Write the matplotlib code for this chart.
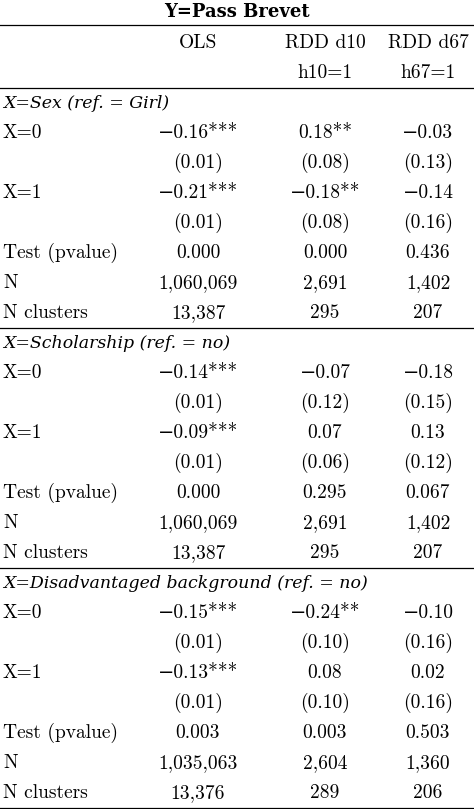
import matplotlib.pyplot as plt

plt.rcParams['font.family'] = ['cmr10', 'DejaVu Serif']
plt.rcParams['mathtext.fontset'] = 'cm'

title = "Y=Pass Brevet"
headers1 = ["OLS", "RDD d10", "RDD d67"]
headers2 = ["", "h10=1", "h67=1"]
sections = ["X=Sex (ref. = Girl)",
            "X=Scholarship (ref. = no)",
            "X=Disadvantaged background (ref. = no)"]
row_labels = ["X=0", "", "X=1", "", "Test (pvalue)", "N", "N clusters"]
values = [
    [["-0.16***", "0.18**", "-0.03"],
     ["(0.01)", "(0.08)", "(0.13)"],
     ["-0.21***", "-0.18**", "-0.14"],
     ["(0.01)", "(0.08)", "(0.16)"],
     ["0.000", "0.000", "0.436"],
     ["1,060,069", "2,691", "1,402"],
     ["13,387", "295", "207"]],
    [["-0.14***", "-0.07", "-0.18"],
     ["(0.01)", "(0.12)", "(0.15)"],
     ["-0.09***", "0.07", "0.13"],
     ["(0.01)", "(0.06)", "(0.12)"],
     ["0.000", "0.295", "0.067"],
     ["1,060,069", "2,691", "1,402"],
     ["13,387", "295", "207"]],
    [["-0.15***", "-0.24**", "-0.10"],
     ["(0.01)", "(0.10)", "(0.16)"],
     ["-0.13***", "0.08", "0.02"],
     ["(0.01)", "(0.10)", "(0.16)"],
     ["0.003", "0.003", "0.503"],
     ["1,035,063", "2,604", "1,360"],
     ["13,376", "289", "206"]],
]

W, H = 474, 809
fig = plt.figure(figsize=(W / 100, H / 100), dpi=100)
ax = fig.add_axes([0, 0, 1, 1])
ax.set_xlim(0, W)
ax.set_ylim(H, 0)
ax.axis('off')

fs = 14
col_x = [198, 325, 428]
lw = 0.9

ax.text(W / 2, 12, title, ha='center', va='center', fontsize=13,
        fontweight='bold', family=['DejaVu Serif'])
ax.axhline(25, color='black', lw=lw)
for x, h1, h2 in zip(col_x, headers1, headers2):
    ax.text(x, 43, h1, ha='center', va='center', fontsize=fs)
    ax.text(x, 73, h2, ha='center', va='center', fontsize=fs)

y = 103
for sec, vals in zip(sections, values):
    ax.axhline(y - 15, color='black', lw=lw)
    ax.text(3, y, sec, ha='left', va='center', fontsize=12.5, style='italic',
            family=['DejaVu Serif'])
    y += 30
    for lab, row in zip(row_labels, vals):
        ax.text(3, y, lab, ha='left', va='center', fontsize=fs)
        for x, v in zip(col_x, row):
            ax.text(x, y, v.replace('-', '\u2212'), ha='center', va='center', fontsize=fs)
        y += 30
ax.axhline(y - 15, color='black', lw=lw)

fig.savefig('out.png', dpi=100)
